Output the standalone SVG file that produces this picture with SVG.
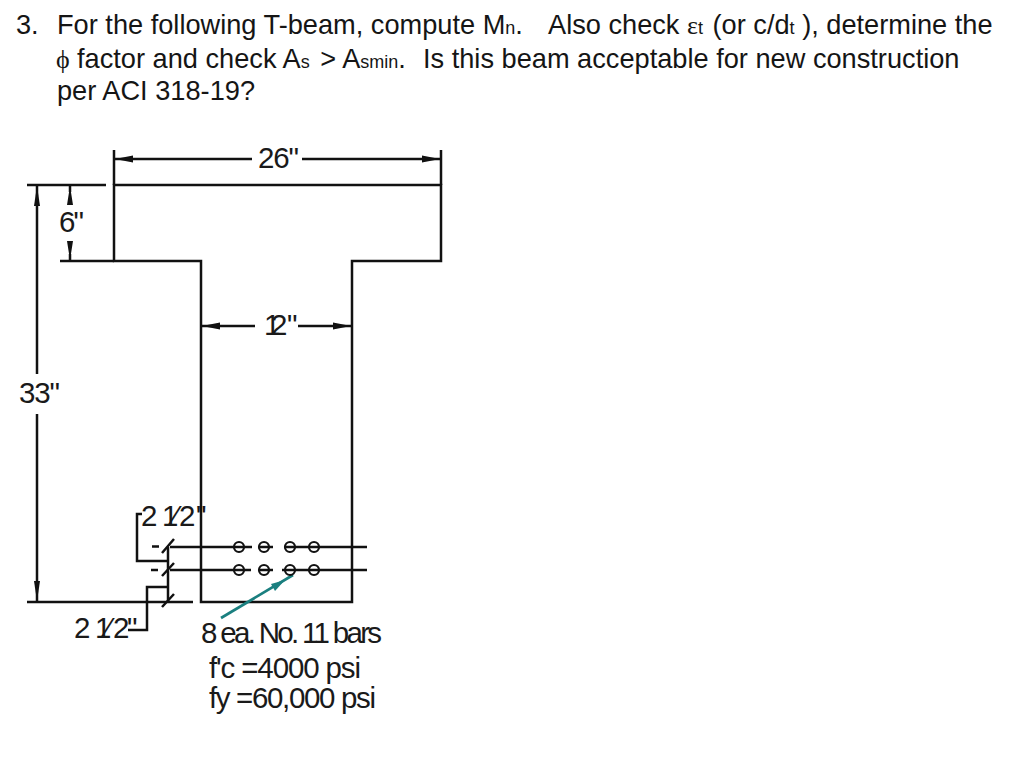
<svg xmlns="http://www.w3.org/2000/svg" width="1024" height="779" viewBox="0 0 1024 779">
<style>
.q{font-family:"Liberation Sans",Arial,sans-serif;font-size:27.2px;fill:#151515}
.sub{font-size:18px}
.sym{font-family:"Liberation Serif","DejaVu Serif",serif;font-size:26px}
.l{font-family:"Liberation Sans",Arial,sans-serif;font-size:29.5px;fill:#1a1a1a}
.s{fill:none;stroke:#111;stroke-width:2.500}
.b{fill:none;stroke:#111;stroke-width:2.200}
.a{fill:#111}
</style>
<rect width="1024" height="779" fill="#fff"/>
<g id="question">
<text class="q" x="16" y="34">3.</text>
<text class="q" x="57" y="34">For the following T-beam, compute M<tspan class="sub">n</tspan>.</text>
<text class="q" x="548" y="34">Also check <tspan class="sym">ε</tspan><tspan class="sub">t</tspan><tspan dx="2"> (or c/d</tspan><tspan class="sub">t</tspan> ), determine the</text>
<text class="q" x="56" y="68"><tspan class="sym">ϕ</tspan></text>
<text class="q" x="77" y="68">factor and check A<tspan class="sub">s</tspan><tspan dx="3"> &gt; A</tspan><tspan class="sub">smin</tspan>.</text>
<text class="q" x="423" y="68">Is this beam acceptable for new construction</text>
<text class="q" x="57" y="100">per ACI 318-19?</text>
</g>
<g id="beam">
<path class="s" d="M114 185H441V261H352V602H201V261H114Z"/>
</g>
<g id="connectors">
<path class="s" d="M114 150V185M441 150V185"/>
<path class="s" d="M115 159H252M302 159H440"/>
<path class="a" d="M115 159l18-3.500v7zM440 159l-18-3.500v7z"/>
<path class="s" d="M27 185H106M60 261H114"/>
<path class="s" d="M37 185V374M37 414V602"/>
<path class="a" d="M37 186l-3 20h6z"/>
<path class="a" d="M37 601l-3-20h6z"/>
<path class="s" d="M27 602H193"/>
<path class="a" d="M70 186l-3 19h6zM70 260l-3-19h6z"/>
<path class="s" d="M70 186V192M70 254V260"/>
<path class="s" d="M202 326H255M298 326H351"/>
<path class="a" d="M202 326l18-3.500v7zM351 326l-18-3.500v7z"/>
<path class="s" d="M170 547H252M258 547H273M284 547H367M170 570H251M259 570H273M282 570H367"/>
<path class="s" d="M168 547V602"/>
<path class="s" d="M162 553L174 539M162 576L174 563M162 607L174 594"/>
<path class="s" d="M152 546.500H159M151 570H158"/>
<path class="s" d="M142 514H137V561H168M168 587H147V630H128"/>
<path fill="none" stroke="#1a7f7f" stroke-width="2.700" d="M221 618L293 575"/>
<path fill="#1a7f7f" d="M285 580l-14 4 4 7z"/>
</g>
<g id="bars">
<circle class="b" cx="239" cy="547" r="5"/><circle class="b" cx="264" cy="547" r="5"/><circle class="b" cx="290" cy="547" r="5"/><circle class="b" cx="314" cy="547" r="5"/>
<circle class="b" cx="239" cy="570" r="5"/><circle class="b" cx="264" cy="570" r="5"/><circle class="b" cx="290" cy="570" r="5"/><circle class="b" cx="314" cy="570" r="5"/>
</g>
<g id="labels">
<text class="l" x="258" y="168" textLength="41">26"</text>
<text class="l" x="59" y="232" textLength="25">6"</text>
<text class="l" x="264 271 287" y="335">12"</text>
<text class="l" x="19" y="403" textLength="41">33"</text>
<text class="l" x="141 158 162 173 179 196" y="526">2 1⁄2"</text>
<text class="l" x="74 91 95 106 113 127" y="638">2 1⁄2"</text>
<text class="l" x="201" y="643" textLength="181">8 ea. No. 11 bars</text>
<text class="l" x="209" y="678" textLength="152">f'c =4000 psi</text>
<text class="l" x="209" y="708" textLength="167">fy =60,000 psi</text>
</g>
</svg>
